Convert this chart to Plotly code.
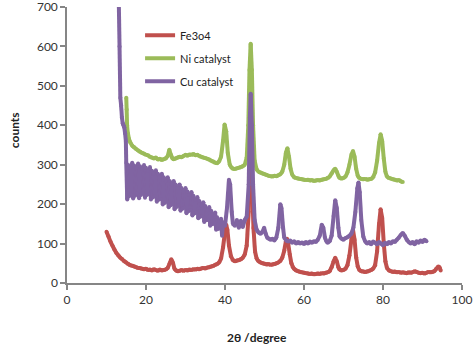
import plotly.graph_objects as go

# ---------------- data ----------------
fe_x = [10, 10.5, 11, 11.5, 12, 12.5, 13, 13.5, 14, 14.5, 15, 15.5, 16, 16.5, 17, 17.5, 18, 18.5, 19, 19.5,
        20, 20.5, 21, 21.5, 22, 22.5, 23, 23.5, 24, 24.5, 25, 25.5, 26, 26.4, 26.8, 27.2, 27.6, 28, 28.5, 29,
        29.5, 30, 30.5, 31, 31.5, 32, 32.5, 33, 33.5, 34, 34.5, 35, 35.5, 36, 36.5, 37, 37.5, 38, 38.5, 39,
        39.5, 40, 40.3, 40.6, 41, 41.5, 42, 42.5, 43, 43.5, 44, 44.5, 45, 45.5, 46, 46.3, 46.6, 46.9, 47.2, 47.6,
        48, 48.5, 49, 49.5, 50, 50.5, 51, 51.5, 52, 52.5, 53, 53.5, 54, 54.5, 55, 55.4, 55.7, 56, 56.4, 56.8,
        57.2, 57.6, 58, 58.5, 59, 59.5, 60, 60.5, 61, 61.5, 62, 62.5, 63, 63.5, 64, 64.5, 65, 65.5, 66, 66.5,
        67, 67.5, 67.9, 68.3, 68.7, 69, 69.5, 70, 70.5, 71, 71.5, 72, 72.4, 72.8, 73.2, 73.6, 74, 74.5, 75, 75.5,
        76, 76.5, 77, 77.5, 78, 78.5, 79, 79.4, 79.8, 80.2, 80.6, 81, 81.5, 82, 82.5, 83, 83.5, 84, 84.5, 85,
        85.5, 86, 86.5, 87, 87.5, 88, 88.5, 89, 89.5, 90, 90.5, 91, 91.5, 92, 92.5, 93, 93.5, 94, 94.3, 94.6]
fe_y = [130, 118, 105, 95, 85, 76, 70, 64, 60, 55, 52, 48, 45, 44, 42, 40, 38, 38, 36, 35,
        36, 33, 34, 32, 35, 33, 31, 34, 32, 33, 34, 38, 50, 60, 52, 36, 32, 30, 31, 33,
        31, 33, 32, 34, 33, 35, 34, 36, 35, 37, 38, 37, 39, 40, 42, 43, 46, 48, 52, 62,
        90, 130, 148, 135, 95, 68, 58, 55, 57, 58, 60, 64, 72, 95, 180, 270, 300, 240, 140, 80,
        62, 55, 52, 50, 49, 47, 48, 46, 47, 48, 50, 52, 56, 64, 82, 105, 112, 100, 72, 50,
        40, 35, 32, 30, 28, 27, 26, 25, 24, 23, 24, 22, 23, 24, 23, 25, 24, 26, 27, 30,
        40, 55, 64, 55, 40, 34, 32, 33, 36, 45, 70, 110, 135, 110, 65, 42, 33, 30, 29, 28,
        29, 31, 33, 36, 45, 80, 150, 187, 165, 100, 55, 38, 32, 30, 28, 29, 27, 28, 26, 27,
        26, 25, 27, 26, 27, 30, 28, 26, 25, 26, 24, 26, 28, 27, 28, 30, 36, 42, 40, 32]

ni_x = [15.0, 15.1, 15.2, 15.4, 15.7, 16, 16.5, 17, 17.5, 18, 18.5, 19, 19.5, 20, 20.5, 21, 21.5, 22, 22.5,
        23, 23.5, 24, 24.5, 25, 25.5, 25.9, 26.3, 26.7, 27, 27.5, 28, 28.5, 29, 29.5, 30, 30.5, 31, 31.5, 32,
        32.5, 33, 33.5, 34, 34.5, 35, 35.5, 36, 36.5, 37, 37.5, 38, 38.5, 39, 39.5, 39.9, 40.3, 40.7, 41.2,
        41.7, 42, 42.5, 43, 43.5, 44, 44.5, 45, 45.5, 45.9, 46.2, 46.5, 46.8, 47.1, 47.5, 48, 48.5, 49, 49.5,
        50, 50.5, 51, 51.5, 52, 52.5, 53, 53.5, 54, 54.5, 55, 55.4, 55.8, 56.2, 56.6, 57, 57.5, 58, 58.5, 59,
        59.5, 60, 60.5, 61, 61.5, 62, 62.5, 63, 63.5, 64, 64.5, 65, 65.5, 66, 66.5, 67, 67.5, 67.9, 68.3, 68.7,
        69, 69.5, 70, 70.5, 71, 71.5, 72, 72.4, 72.8, 73.2, 73.6, 74, 74.5, 75, 75.5, 76, 76.5, 77, 77.5, 78,
        78.5, 79, 79.4, 79.8, 80.2, 80.6, 81, 81.5, 82, 82.5, 83, 83.5, 84, 84.5, 85]
ni_y = [470, 440, 400, 380, 365, 357, 348, 344, 340, 336, 333, 330, 328, 325, 324, 320, 318, 316, 318,
        313, 315, 312, 314, 316, 322, 338, 325, 316, 314, 316, 318, 320, 319, 322, 325, 323, 326, 325, 327,
        324, 325, 322, 320, 318, 317, 315, 313, 310, 308, 305, 304, 308, 320, 360, 402, 385, 330, 300,
        292, 290, 289, 291, 292, 294, 296, 300, 318, 400, 540, 607, 540, 400, 310, 288, 282, 280, 278,
        276, 274, 272, 271, 270, 272, 271, 273, 276, 282, 300, 330, 342, 320, 290, 275, 268, 266, 265, 264,
        263, 262, 261, 262, 260, 261, 259, 260, 261, 260, 262, 263, 264, 266, 270, 278, 286, 290, 282, 272,
        266, 265, 266, 270, 280, 300, 325, 335, 320, 290, 272, 266, 264, 263, 264, 262, 263, 264, 268, 280,
        310, 355, 377, 360, 315, 282, 270, 266, 265, 263, 262, 260, 261, 258, 256]

cu_x = [13.1, 13.3, 13.5, 13.7, 13.9, 14.1, 14.3, 14.5, 14.7, 14.9,
        15.0, 15.25, 15.5, 15.75, 16.0, 16.25, 16.5, 16.75, 17.0, 17.25, 17.5, 17.75, 18.0, 18.25, 18.5, 18.75,
        19.0, 19.25, 19.5, 19.75, 20.0, 20.25, 20.5, 20.75, 21.0, 21.25, 21.5, 21.75, 22.0, 22.25, 22.5, 22.75,
        23.0, 23.25, 23.5, 23.75, 24.0, 24.25, 24.5, 24.75, 25.0, 25.25, 25.5, 25.75, 26.0, 26.25, 26.5, 26.75,
        27.0, 27.25, 27.5, 27.75, 28.0, 28.25, 28.5, 28.75, 29.0, 29.25, 29.5, 29.75, 30.0, 30.25, 30.5, 30.75,
        31.0, 31.25, 31.5, 31.75, 32.0, 32.25, 32.5, 32.75, 33.0, 33.25, 33.5, 33.75, 34.0, 34.25, 34.5, 34.75,
        35.0, 35.25, 35.5, 35.75, 36.0, 36.25, 36.5, 36.75, 37.0, 37.25, 37.5, 37.75, 38.0, 38.25, 38.5, 38.75,
        39.0, 39.25, 39.5, 40, 40.5, 41, 41.3, 41.7, 42, 42.5, 43, 43.5, 44, 44.5, 45, 45.5, 46, 46.3, 46.5,
        46.8, 47.1, 47.5, 48, 48.5, 49, 49.5, 49.9, 50.3, 50.7, 51, 51.5, 52, 52.5, 53, 53.5, 54, 54.3, 54.7,
        55, 55.5, 56, 56.5, 57, 57.5, 58, 58.5, 59, 59.5, 60, 60.5, 61, 61.5, 62, 62.5, 63, 63.5, 64, 64.5,
        64.9, 65.3, 65.7, 66, 66.5, 67, 67.5, 67.9, 68.3, 68.7, 69, 69.5, 70, 70.5, 71, 71.5, 72, 72.5, 73,
        73.5, 73.8, 74.1, 74.5, 75, 75.5, 76, 76.5, 77, 77.5, 78, 78.5, 79, 79.5, 80, 80.5, 81, 81.5, 82,
        82.5, 83, 83.5, 84, 84.5, 85, 85.5, 86, 86.5, 87, 87.5, 88, 88.5, 89, 89.5, 90, 90.5, 91]
cu_y = [720, 600, 470, 450, 420, 405, 400, 395, 380, 360,
        305, 212, 299, 220, 293, 225, 305, 214, 298, 221, 292, 227, 303, 215, 296, 223,
        289, 228, 299, 216, 292, 223, 284, 226, 294, 212, 285, 217, 277, 220, 286, 206,
        277, 211, 268, 213, 277, 199, 268, 203, 259, 206, 268, 192, 259, 197, 250, 201,
        259, 187, 250, 193, 241, 196, 250, 183, 241, 188, 232, 191, 241, 177, 232, 182,
        223, 185, 231, 171, 221, 176, 211, 179, 218, 164, 208, 168, 197, 170, 205, 155,
        195, 159, 185, 160, 193, 145, 183, 149, 173, 150, 179, 135, 167, 137, 156, 138,
        163, 120, 154, 145, 190, 262, 250, 180, 150, 145, 160, 140, 158, 142, 160, 168, 250, 420, 480,
        400, 250, 160, 135, 128, 125, 130, 140, 125, 115, 113, 110, 112, 108, 115, 140, 200, 190, 140,
        115, 108, 105, 108, 102, 106, 100, 104, 100, 103, 99, 104, 100, 105, 102, 106, 104, 110, 120, 148,
        140, 115, 105, 102, 106, 120, 170, 210, 190, 140, 118, 112, 110, 114, 116, 120, 125, 140, 180,
        240, 255, 230, 160, 118, 105, 100, 104, 98, 105, 102, 98, 104, 100, 96, 102, 98, 104, 100,
        106, 104, 110, 115, 122, 127, 120, 110, 104, 100, 104, 98, 106, 102, 108, 104, 110, 106]

series_names = ["Fe3o4", "Ni catalyst", "Cu catalyst"]
series_colors = ["#C0504D", "#9BBB59", "#8064A2"]

x_ticks = [0, 20, 40, 60, 80, 100]
y_ticks = [0, 100, 200, 300, 400, 500, 600, 700]

x_title = "<b>2θ /degree</b>"
y_title = "<b>counts</b>"

FONT = "Lato, 'Open Sans', sans-serif"
LW = 4
N_GROUPS = 8  # segments spread over several paths so overlapping strokes render solid


def segment_groups(xs, ys, n):
    groups = [([], []) for _ in range(n)]
    for k in range(len(xs) - 1):
        gx, gy = groups[k % n]
        gx += [xs[k], xs[k + 1], None]
        gy += [ys[k], ys[k + 1], None]
    return groups


fig = go.Figure()
for i, (xs, ys) in enumerate([(fe_x, fe_y), (ni_x, ni_y), (cu_x, cu_y)]):
    name, color = series_names[i], series_colors[i]
    for g, (gx, gy) in enumerate(segment_groups(xs, ys, N_GROUPS)):
        fig.add_trace(go.Scatter(
            x=gx, y=gy, mode="lines", name=name, connectgaps=False,
            line=dict(color=color, width=LW, simplify=False),
            legendgroup=str(i), showlegend=(g == 0),
        ))
    fig.add_trace(go.Scatter(
        x=xs, y=ys, mode="markers", name=name,
        marker=dict(color=color, size=LW, line=dict(width=0)),
        legendgroup=str(i), showlegend=False,
    ))

axis_common = dict(
    showgrid=False, zeroline=False, showline=True, linecolor="#868686", linewidth=1.5,
    ticks="outside", ticklen=5, tickcolor="#868686", tickwidth=1.5,
    tickfont=dict(family=FONT, size=12, color="#333333"),
    ticklabeloverflow="allow", automargin=False,
)

fig.update_layout(
    width=474, height=348,
    margin=dict(l=67, r=12, t=7, b=65),
    paper_bgcolor="white", plot_bgcolor="white",
    font=dict(family=FONT, color="#222222"),
    showlegend=True,
    legend=dict(
        x=0.185, y=0.95, xanchor="left", yanchor="top",
        bgcolor="rgba(0,0,0,0)", traceorder="grouped", tracegroupgap=4,
        font=dict(family=FONT, size=11, color="#222222"),
        itemwidth=30,
    ),
    xaxis=dict(range=[0, 100], tickvals=x_ticks, **axis_common),
    yaxis=dict(range=[0, 700], tickvals=y_ticks, **axis_common),
    annotations=[
        dict(text=x_title, xref="paper", yref="paper", x=0.481, y=-0.199,
             xanchor="center", yanchor="middle", showarrow=False,
             font=dict(family=FONT, size=12, color="#222222")),
        dict(text=y_title, xref="paper", yref="paper", x=-0.134, y=0.554,
             xanchor="center", yanchor="middle", showarrow=False, textangle=-90,
             font=dict(family=FONT, size=12, color="#222222")),
    ],
)

fig.write_html("out.html")
